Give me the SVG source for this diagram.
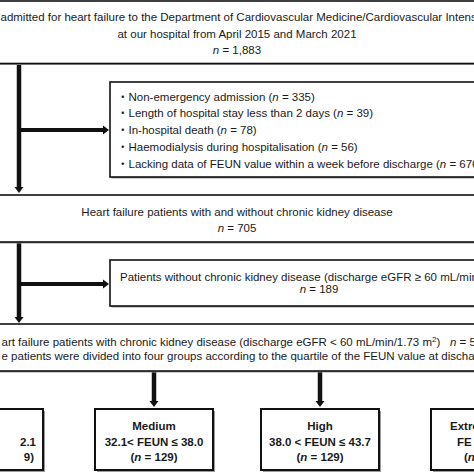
<svg xmlns="http://www.w3.org/2000/svg" width="474" height="474" viewBox="0 0 474 474">
<style>
.box{fill:#fff;stroke:#111;stroke-width:1.6}
.gbox{fill:#fff;stroke:#111;stroke-width:2}
.sh{fill:#9c9c9c}
.t{font-family:"Liberation Sans",Arial,"Noto Sans CJK JP",sans-serif;font-size:11.5px;fill:#1a1a1a}
.b{font-weight:bold}
.c{text-anchor:middle}
.e{text-anchor:end}
.v{stroke:#111;stroke-width:4.5;fill:none}
.h{stroke:#111;stroke-width:3.8;fill:none}
</style>
<defs>
<marker id="ah" markerUnits="userSpaceOnUse" markerWidth="7" markerHeight="10" refX="0" refY="4.5" orient="auto" overflow="visible">
<path d="M0,0 L6,4.5 L0,9 Z" fill="#111"/>
</marker>
</defs>
<rect width="474" height="474" fill="#fff"/>

<g id="connectors">
<line class="v" x1="19" y1="63" x2="19" y2="187" marker-end="url(#ah)"/>
<line class="h" x1="19" y1="130" x2="103" y2="130" marker-end="url(#ah)"/>
<line class="v" x1="19" y1="242" x2="19" y2="317" marker-end="url(#ah)"/>
<line class="h" x1="19" y1="284" x2="103" y2="284" marker-end="url(#ah)"/>
<line class="v" x1="154" y1="371" x2="154" y2="401" marker-end="url(#ah)"/>
<line class="v" x1="320" y1="371" x2="320" y2="401" marker-end="url(#ah)"/>
</g>

<g id="node-admitted">
<rect class="sh" x="-8.5" y="2.5" width="494" height="62.5"/>
<rect class="box" x="-10" y="1" width="494" height="62.5"/>
<text class="t" x="0.5" y="21">admitted for heart failure to the Department of Cardiovascular Medicine/Cardiovascular Intens</text>
<text class="t c" x="237" y="37.5">at our hospital from April 2015 and March 2021</text>
<text class="t c" x="237" y="54"><tspan font-style="italic">n</tspan> = 1,883</text>
</g>

<g id="node-excluded1">
<rect class="sh" x="111.5" y="83.5" width="380" height="95"/>
<rect class="box" x="110" y="82" width="380" height="95"/>
<text class="t" x="117" y="100.5">・Non-emergency admission (<tspan font-style="italic">n</tspan> = 335)</text>
<text class="t" x="117" y="117.3">・Length of hospital stay less than 2 days (<tspan font-style="italic">n</tspan> = 39)</text>
<text class="t" x="117" y="134">・In-hospital death (<tspan font-style="italic">n</tspan> = 78)</text>
<text class="t" x="117" y="150.8">・Haemodialysis during hospitalisation (<tspan font-style="italic">n</tspan> = 56)</text>
<text class="t" x="117" y="167.6">・Lacking data of FEUN value within a week before discharge (<tspan font-style="italic">n</tspan> = 676</text>
</g>

<g id="node-hf">
<rect class="sh" x="-8.5" y="196.5" width="494" height="47"/>
<rect class="box" x="-10" y="195" width="494" height="47"/>
<text class="t c" x="237" y="216">Heart failure patients with and without chronic kidney disease</text>
<text class="t c" x="237" y="232"><tspan font-style="italic">n</tspan> = 705</text>
</g>

<g id="node-excluded2">
<rect class="sh" x="111.5" y="261.5" width="380" height="46"/>
<rect class="box" x="110" y="260" width="380" height="46"/>
<text class="t" x="120" y="281">Patients without chronic kidney disease (discharge eGFR ≥ 60 mL/min</text>
<text class="t c" x="319" y="293"><tspan font-style="italic">n</tspan> = 189</text>
</g>

<g id="node-ckd">
<rect class="sh" x="-8.5" y="325.5" width="494" height="47"/>
<rect class="box" x="-10" y="324" width="494" height="47"/>
<text class="t" x="1.5" y="346">art failure patients with chronic kidney disease (discharge eGFR &lt; 60 mL/min/1.73 m<tspan font-size="8" dy="-4">2</tspan><tspan dy="4">)</tspan></text>
<text class="t" x="450" y="346"><tspan font-style="italic">n</tspan> = 5</text>
<text class="t" x="1.5" y="359.5">e patients were divided into four groups according to the quartile of the FEUN value at dischar</text>
</g>

<g id="node-low">
<rect class="sh" x="-78" y="411" width="123" height="61"/>
<rect class="gbox" x="-80" y="409" width="123" height="61"/>
<text class="t b e" x="36" y="445.5">2.1</text>
<text class="t b e" x="34" y="461">9)</text>
</g>

<g id="node-medium">
<rect class="sh" x="97" y="411" width="118" height="61"/>
<rect class="gbox" x="95" y="409" width="118" height="61"/>
<text class="t b c" x="154" y="430">Medium</text>
<text class="t b c" x="154" y="445.5">32.1&lt; FEUN ≤ 38.0</text>
<text class="t b c" x="154" y="461">(<tspan font-style="italic">n</tspan> = 129)</text>
</g>

<g id="node-high">
<rect class="sh" x="263" y="411" width="118" height="61"/>
<rect class="gbox" x="261" y="409" width="118" height="61"/>
<text class="t b c" x="320" y="430">High</text>
<text class="t b c" x="320" y="445.5">38.0 &lt; FEUN ≤ 43.7</text>
<text class="t b c" x="320" y="461">(<tspan font-style="italic">n</tspan> = 129)</text>
</g>

<g id="node-extreme">
<rect class="sh" x="433" y="411" width="118" height="61"/>
<rect class="gbox" x="431" y="409" width="118" height="61"/>
<text class="t b" x="450" y="430">Extre</text>
<text class="t b" x="457" y="445.5">FE</text>
<text class="t b" x="464" y="461">(<tspan font-style="italic">n</tspan></text>
</g>
</svg>
